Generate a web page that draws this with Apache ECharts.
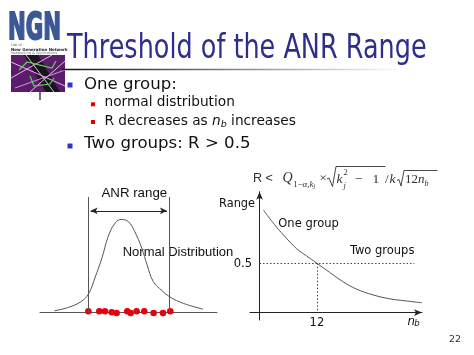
<!DOCTYPE html>
<html>
<head>
<meta charset="utf-8">
<script src="https://cdn.jsdelivr.net/npm/echarts@6/dist/echarts.min.js"></script>
<style>
html, body { margin: 0; padding: 0; background: #fff; }
#chart { width: 474px; height: 355px; }
</style>
</head>
<body>
<div id="chart"></div>
<script>
// left panel: normal distribution curve (x 0-100, y 0-100)
var normX = [8, 17, 24.5, 28, 31, 35, 38.5, 42.5, 46, 50, 53.5, 57.5, 60.5, 64, 69, 73.5, 81, 92];
var normY = [1, 4.5, 10.5, 17.5, 29.5, 47, 65.5, 77.5, 80.5, 78.5, 70, 55.5, 41, 26.5, 18.5, 13, 7.5, 2.5];
// observations sitting on the baseline
var dotX = [27.3, 33.5, 36.7, 40.5, 43.3, 49.3, 51.2, 54.6, 58.9, 64.2, 69.5, 73.6];
var dotY = [0.6, 0.6, 0.6, -0.3, -0.9, 0.6, -0.9, 0.6, 0.6, -0.9, -0.9, 0.6];
// ANR range bounds
var rangeBounds = [27.3, 73];
var rangeTop = 100, arrowY = 88;

// right panel: Range vs n_b
var nbX = [0.8, 2.1, 3.5, 5.6, 7.7, 9.8, 12, 14.6, 17.4, 20.2, 23.7, 27.2, 30.7, 34];
var rangeY = [1.04, 0.955, 0.87, 0.755, 0.65, 0.575, 0.5, 0.41, 0.315, 0.24, 0.18, 0.14, 0.118, 0.1];
var threshold = 0.5, nbCross = 12, dottedEnd = 32.4;
var xTicks = [12], yTicks = [0.5];

var SANS = "'DejaVu Sans'",
    COND = "'DejaVu Sans Condensed', 'DejaVu Sans'",
    ARIAL = "'Liberation Sans', Arial",
    SERIF = "'Liberation Serif', serif";

var ctx = document.createElement('canvas').getContext('2d');
function tw(s, size, family, fstyle) {
    ctx.font = (fstyle || 'normal') + ' ' + size + 'px ' + family;
    return ctx.measureText(s).width;
}

function txt(x, y, s, size, family, o) {
    o = o || {};
    var st = {
        text: s,
        fontSize: size,
        fontFamily: family,
        fontStyle: o.italic ? 'italic' : 'normal',
        fontWeight: o.bold ? 'bold' : 'normal',
        fill: o.color || '#111',
        align: o.align || 'left',
        textAlign: o.align || 'left',
        verticalAlign: 'middle',
        textVerticalAlign: 'middle'
    };
    if (o.stroke) {
        st.stroke = o.stroke;
        st.lineWidth = o.lineWidth || 1;
    }
    var el = { type: 'text', x: x, y: y, silent: true, style: st };
    if (o.scaleX) el.scaleX = o.scaleX;
    if (o.scaleY) el.scaleY = o.scaleY;
    return el;
}
function rect(x, y, w, h, fill) {
    return { type: 'rect', silent: true, shape: { x: x, y: y, width: w, height: h }, style: { fill: fill } };
}
function poly(pts, color, width) {
    return { type: 'polyline', silent: true, shape: { points: pts }, style: { stroke: color, lineWidth: width || 1, fill: null } };
}

var els = [];

// logo
els.push(txt(8, 29, 'NGN', 38, SANS, { bold: true, scaleX: 0.56, color: '#3a5896', stroke: '#3a5896', lineWidth: 2 }));
els.push(txt(11, 45.5, 'Lab of', 3.5, SANS, { color: '#666' }));
els.push(txt(11, 49.5, 'New Generation Network', 4, SANS, { bold: true, color: '#223' }));
els.push(txt(11, 53, 'Networking & Applications', 3.5, SANS, { color: '#777' }));
els.push(rect(11, 55, 54, 37, '#5b1d6b'));
els.push({ type: 'polygon', silent: true, shape: { points: [[24, 55], [38, 55], [60, 92], [46, 92]] }, style: { fill: '#1c1320' } });
els.push(poly([[11, 62], [65, 86]], '#e9b6e6', 1));
els.push(poly([[26, 55], [54, 92]], '#e9b6e6', 1));
els.push(poly([[11, 78], [52, 55]], '#e9b6e6', 1));
els.push(poly([[30, 92], [65, 61]], '#e9b6e6', 1));
els.push(poly([[15, 88], [65, 70]], '#e9b6e6', 0.8));
els.push(poly([[19, 70], [27, 62], [52, 68], [56, 61]], '#5fd35a', 1.2));
els.push(poly([[30, 76], [34, 86], [50, 84], [54, 78]], '#5fd35a', 1.2));
els.push(poly([[40, 92], [40, 100]], '#111', 1.2));

// title + rule
els.push(txt(67, 49.5, 'Threshold of the ANR Range', 25.5, SANS, { color: '#2e2e8c', scaleY: 1.32 }));
els.push({
    type: 'line', silent: true, shape: { x1: 62, y1: 69.5, x2: 400, y2: 69.5 },
    style: { lineWidth: 1.5, stroke: { type: 'linear', x: 0, y: 0, x2: 1, y2: 0, colorStops: [{ offset: 0, color: '#111' }, { offset: 0.45, color: '#777' }, { offset: 1, color: '#fff' }] } }
});

// bullets
els.push(rect(67.5, 82.5, 5, 5, '#3333cc'));
els.push(txt(84, 85, 'One group:', 16.6, SANS));
els.push(rect(91, 102.3, 4, 4, '#e00000'));
els.push(txt(104.5, 102.5, 'normal distribution', 13.7, SANS));
els.push(rect(91, 120, 4, 4, '#e00000'));
(function() {
    var x = 104.5, y = 121.5;
    var a = 'R decreases as ';
    els.push(txt(x, y, a, 13.7, SANS));
    x += tw(a, 13.7, SANS);
    els.push(txt(x, y, 'n', 13.7, SANS, { italic: true }));
    x += tw('n', 13.7, SANS, 'italic');
    els.push(txt(x, y + 3, 'b', 9.5, SANS, { italic: true }));
    x += tw('b', 9.5, SANS, 'italic');
    els.push(txt(x, y, ' increases', 13.7, SANS));
})();
els.push(rect(67.5, 143.5, 5, 5, '#3333cc'));
els.push(txt(84, 143.8, 'Two groups: R > 0.5', 16.6, SANS));

// formula
var fc = '#333';
els.push(txt(253, 179, 'R <', 12.6, ARIAL, { color: fc }));
els.push(txt(282.5, 178.5, 'Q', 14, SERIF, { italic: true, color: fc }));
els.push(txt(293, 184.5, '1\u2212', 9, SERIF, { color: fc }));
els.push(txt(293 + tw('1\u2212', 9, SERIF), 184.5, '\u03b1,k', 9, SERIF, { italic: true, color: fc }));
els.push(txt(313.5, 186.5, 'j', 6.5, SERIF, { italic: true, color: fc }));
els.push(txt(319.5, 179, '\u00d7', 13, SERIF, { color: fc }));
els.push(poly([[327, 179], [329, 178], [332.5, 186.5], [336, 166.5], [385.5, 166.5]], fc, 0.9));
els.push(txt(336.5, 179, 'k', 13.5, SERIF, { italic: true, color: fc }));
els.push(txt(343.5, 172.5, '2', 8.5, SERIF, { color: fc }));
els.push(txt(343.5, 185.5, 'j', 8.5, SERIF, { italic: true, color: fc }));
els.push(txt(355, 179, '\u2212', 13.5, SERIF, { color: fc }));
els.push(txt(372.5, 179, '1', 13.5, SERIF, { color: fc }));
els.push(txt(385, 179, '/', 13.5, SERIF, { color: fc }));
els.push(txt(389.5, 179, 'k', 13.5, SERIF, { italic: true, color: fc }));
els.push(poly([[397, 180.5], [399, 179.5], [401, 186], [404, 170.5], [437.5, 170.5]], fc, 0.9));
els.push(txt(405, 180, '12', 13, SERIF, { color: fc }));
els.push(txt(405 + tw('12', 13, SERIF), 180, 'n', 13, SERIF, { italic: true, color: fc }));
els.push(txt(424.5, 184, 'b', 8, SERIF, { italic: true, color: fc }));

// left panel labels
els.push(txt(134.3, 193.3, 'ANR range', 13.3, ARIAL, { align: 'center' }));
els.push(txt(122.7, 252.5, 'Normal Distribution', 13, ARIAL));

// right panel labels
els.push(txt(255, 204, 'Range', 12.6, COND, { align: 'right' }));
els.push(txt(278.3, 223.3, 'One group', 12.8, COND));
els.push(txt(350, 250.8, 'Two groups', 12.8, COND));
els.push(txt(407.5, 321.5, 'n', 13, COND, { italic: true }));
els.push(txt(414.3, 324, 'b', 9.5, COND, { italic: true }));

els.push(txt(449, 340, '22', 9.5, SANS, { color: '#333' }));

function zip(a, b) {
    return a.map(function(v, i) { return [v, b[i]]; });
}

var chart = echarts.init(document.getElementById('chart'), null, { renderer: 'canvas' });
var option = {
    backgroundColor: '#fff',
    animation: false,
    grid: [
        { left: 40, top: 197, width: 177, height: 126.5 },
        { left: 250, top: 191.7, width: 172, height: 128.3 }
    ],
    xAxis: [{
        gridIndex: 0, type: 'value', min: 0, max: 100,
        axisLine: { onZero: true, lineStyle: { color: '#555', width: 1 } },
        axisTick: { show: false }, axisLabel: { show: false }, splitLine: { show: false }
    }, {
        gridIndex: 1, type: 'value', min: -2, max: 34, interval: 2,
        axisLine: { onZero: true, symbol: ['none', 'arrow'], symbolSize: [5, 8], lineStyle: { color: '#222', width: 1 } },
        axisTick: { show: false }, splitLine: { show: false },
        axisLabel: {
            margin: -4, color: '#111', fontSize: 12.8, fontFamily: COND,
            formatter: function(v) { return xTicks.indexOf(v) > -1 ? String(v) : ''; }
        }
    }],
    yAxis: [{
        gridIndex: 0, type: 'value', min: -10, max: 100, show: false
    }, {
        gridIndex: 1, type: 'value', min: -0.075, max: 1.225, interval: 0.025,
        axisLine: { onZero: true, symbol: ['none', 'arrow'], symbolSize: [5, 8], lineStyle: { color: '#222', width: 1 } },
        axisTick: { show: false }, splitLine: { show: false },
        axisLabel: {
            margin: -2, color: '#111', fontSize: 12.8, fontFamily: COND,
            formatter: function(v) {
                for (var i = 0; i < yTicks.length; i++) {
                    if (Math.abs(v - yTicks[i]) < 1e-6) return String(yTicks[i]);
                }
                return '';
            }
        }
    }],
    series: [{
        type: 'line', xAxisIndex: 0, yAxisIndex: 0,
        data: zip(normX, normY), smooth: 0.4, showSymbol: false, silent: true,
        lineStyle: { color: '#555', width: 1 },
        markLine: {
            silent: true, symbol: 'none', label: { show: false },
            lineStyle: { color: '#555', width: 1, type: 'solid' },
            data: rangeBounds.map(function(b) { return [{ coord: [b, 0] }, { coord: [b, rangeTop] }]; })
        }
    }, {
        type: 'scatter', xAxisIndex: 0, yAxisIndex: 0,
        data: zip(dotX, dotY), symbolSize: 6.5, silent: true,
        itemStyle: { color: '#e8000b', opacity: 1 },
        markLine: {
            silent: true, symbol: ['arrow', 'arrow'], symbolSize: [5, 7], label: { show: false },
            lineStyle: { color: '#222', width: 1, type: 'solid' },
            data: [[{ coord: [rangeBounds[0] + 1.3, arrowY] }, { coord: [rangeBounds[1] - 1.3, arrowY] }]]
        }
    }, {
        type: 'line', xAxisIndex: 1, yAxisIndex: 1,
        data: zip(nbX, rangeY), smooth: 0.4, showSymbol: false, silent: true,
        lineStyle: { color: '#555', width: 1 },
        markLine: {
            silent: true, symbol: 'none', label: { show: false },
            lineStyle: { color: '#444', width: 1, type: [1.5, 2] },
            data: [
                [{ coord: [0, threshold] }, { coord: [dottedEnd, threshold] }],
                [{ coord: [nbCross, threshold] }, { coord: [nbCross, 0] }]
            ]
        }
    }],
    graphic: { elements: els }
};
chart.setOption(option);
</script>
</body>
</html>
